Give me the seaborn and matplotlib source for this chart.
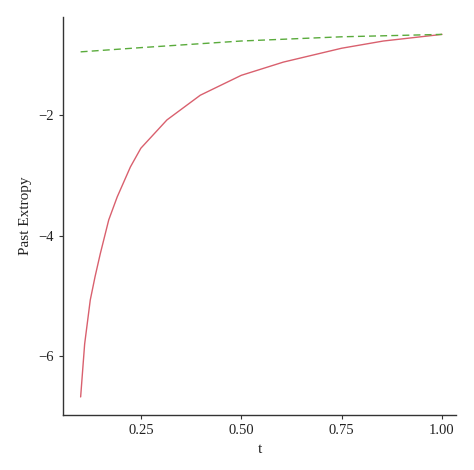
import matplotlib
matplotlib.use('Agg')
import seaborn as sns
import matplotlib.pyplot as plt
import pandas as pd

# values
t_red = [0.10, 0.11, 0.124, 0.136, 0.149, 0.17, 0.191, 0.224, 0.25, 0.315, 0.398, 0.50, 0.605, 0.75, 0.854, 1.00]
y_red = [-6.68, -5.80, -5.07, -4.68, -4.30, -3.74, -3.36, -2.86, -2.55, -2.08, -1.67, -1.34, -1.12, -0.89, -0.77, -0.66]
t_green = [0.10, 0.25, 0.50, 0.75, 1.00]
y_green = [-0.95, -0.88, -0.77, -0.70, -0.66]

sns.set_style('white')
plt.rcParams['font.family'] = ['Liberation Serif', 'DejaVu Serif']

fig = plt.figure(figsize=(4.74, 4.70), dpi=100)
ax = fig.add_axes([0.132, 0.117, 0.831, 0.847])

red = pd.DataFrame({'t': t_red, 'y': y_red})
green = pd.DataFrame({'t': t_green, 'y': y_green})
sns.lineplot(data=red, x='t', y='y', ax=ax, color='#d9606e', linewidth=1.0)
sns.lineplot(data=green, x='t', y='y', ax=ax, color='#5aab3c', linewidth=1.0, linestyle=(0, (5, 3)))

ax.set_xlim(0.055, 1.036)
ax.set_ylim(-6.98, -0.37)
ax.set_xticks([0.25, 0.50, 0.75, 1.00])
ax.set_xticklabels(['0.25', '0.50', '0.75', '1.00'])
ax.set_yticks([-6, -4, -2])
ax.set_yticklabels(['\u22126', '\u22124', '\u22122'])
ax.tick_params(axis='both', length=3, width=0.8, color='#333333', labelsize=10.5, colors='#222222', direction='out', left=True, bottom=True)
ax.set_xlabel('t', fontsize=11, color='#222222')
ax.set_ylabel('Past Extropy', fontsize=11, color='#222222')
for s in ['top', 'right']:
    ax.spines[s].set_visible(False)
for s in ['left', 'bottom']:
    ax.spines[s].set_color('#333333')
    ax.spines[s].set_linewidth(1.0)

fig.savefig('out.png', dpi=100)
